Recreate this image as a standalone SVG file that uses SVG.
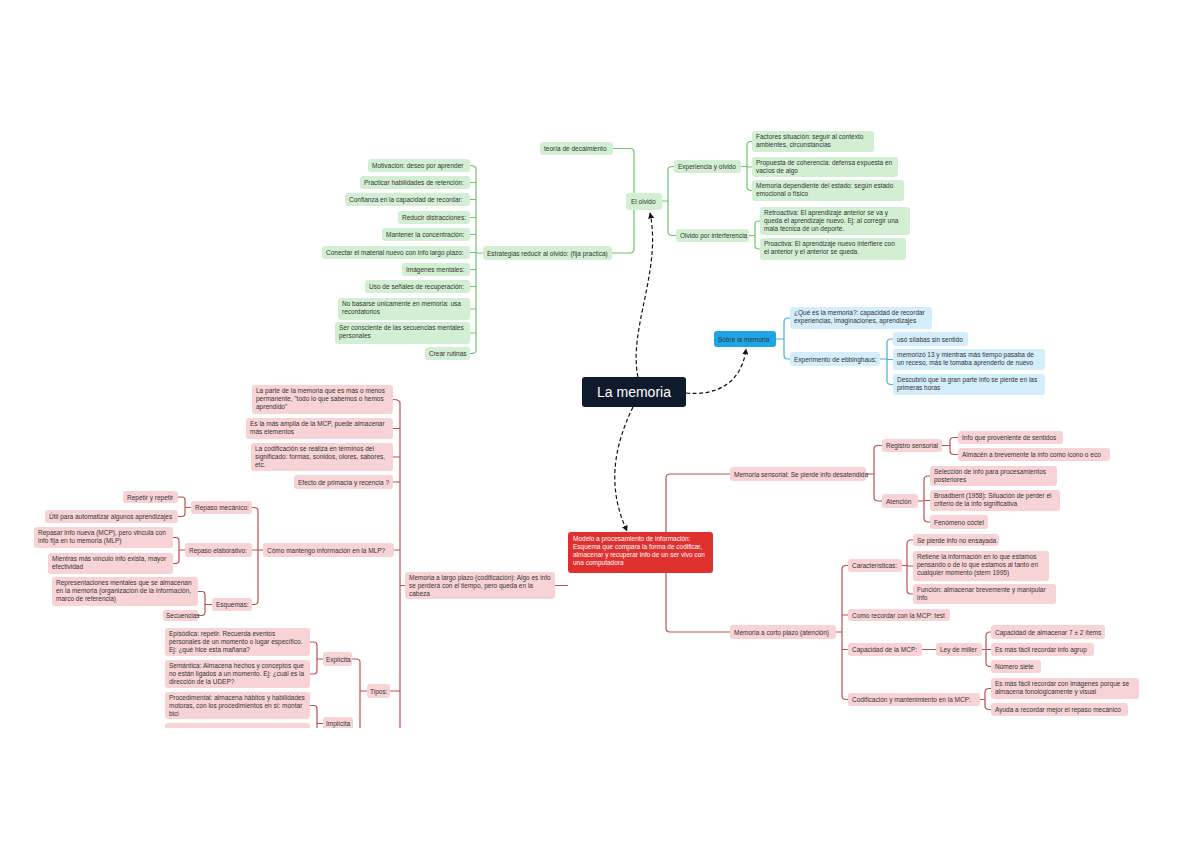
<svg xmlns="http://www.w3.org/2000/svg" width="1200" height="849" viewBox="0 0 1200 849">
<style>
text{font-family:"Liberation Sans",Arial,sans-serif;font-size:6.5px;fill:#333}
.g{fill:#d3efd3}.b{fill:#d4edfa}.r{fill:#f8d3d6}
.gl,.bl,.rl{fill:none;stroke-width:1.2}
.gl{stroke:#6cc46c}.bl{stroke:#3fb1e6}.rl{stroke:#b9514f}
.d{fill:none;stroke:#111;stroke-width:1.2;stroke-dasharray:4 2.5}
</style>
<defs>
<marker id="ah" viewBox="0 0 10 10" refX="9" refY="5" markerWidth="5" markerHeight="5" orient="auto"><path d="M0,0L10,5L0,10z" fill="#111"/></marker>
<clipPath id="cp"><rect x="0" y="0" width="1200" height="728"/></clipPath>
</defs>
<rect width="1200" height="849" fill="#fff"/>
<g clip-path="url(#cp)">
<g id="connectors">
<path class="gl" d="M634,193V152Q634,148.5 630,148.5H613M634,210V249Q634,253 630,253H612"/>
<path class="gl" d="M662,201H668V170Q668,166.5 672,166.5H674M668,201V232Q668,235.5 672,235.5H676"/>
<path class="gl" d="M741,166.5H747M747,145Q747,141.5 751,141.5H752M747,145V187Q747,190.5 751,190.5H752M747,167H752"/>
<path class="gl" d="M749,235.5H755M755,224Q755,221 759,221H760M755,224V246Q755,249 759,249H760"/>
<path class="gl" d="M483,253H476M476,169V351M470,165.5Q476,165.5 476,169M470,182.5H476M470,199.5H476M470,217.5H476M470,234.5H476M470,252.5H476M470,269.5H476M470,286.5H476M470,309H476M470,333H476M470,353.5Q476,353.5 476,351"/>
<path class="bl" d="M776,339H784V322Q784,318 788,318H790M784,339V355Q784,359 788,359H790"/>
<path class="bl" d="M880,359H887M887,343Q887,339 891,339H893M887,359.5H893M887,343V381Q887,384.5 891,384.5H893"/>
<path class="rl" d="M666,532V478Q666,474 670,474H730M666,573V628Q666,632 670,632H730"/>
<path class="rl" d="M866,474H874V449Q874,445.5 878,445.5H882M874,474V497Q874,501 878,501H882"/>
<path class="rl" d="M942,445.5H950V441Q950,437.5 954,437.5H958M950,445.5V451Q950,454.5 954,454.5H958"/>
<path class="rl" d="M918,501H924V480Q924,476 928,476H930M924,500.5H930M924,501V518Q924,522 928,522H930"/>
<path class="rl" d="M836,632H842V569Q842,565.5 846,565.5H848M842,615H848M842,649.5H848M842,632V696Q842,699.5 846,699.5H848"/>
<path class="rl" d="M902,565.5H907V544Q907,540 911,540H913M907,566H913M907,566V590Q907,594 911,594H913"/>
<path class="rl" d="M922,649.5H936M982,649.5H986V636Q986,632 990,632H991M986,649.5H991M986,649.5V663Q986,666.5 990,666.5H991"/>
<path class="rl" d="M980,699.5H985V692Q985,688.5 989,688.5H991M985,699.5V706Q985,709.5 989,709.5H991"/>
<path class="rl" d="M555,585.5H568M405,585.5H400M400,403V760M393,399.5Q400,399.5 400,403M393,428.5H400M393,457H400M393,482H400M394,550H400M390,691H400"/>
<path class="rl" d="M263,550H258V511Q258,507.5 254,507.5H252M258,550H252M258,550V601Q258,604.5 254,604.5H252"/>
<path class="rl" d="M191,507.5H185V500Q185,497 182,497H178M185,507.5V513Q185,516.5 182,516.5H178"/>
<path class="rl" d="M185,550H179V541Q179,537.5 176,537.5H173M179,550V560Q179,563.5 176,563.5H173"/>
<path class="rl" d="M212,604.5H205V595Q205,591.5 202,591.5H198M205,604.5V612Q205,615.5 202,615.5H198"/>
<path class="rl" d="M367,691H360V662Q360,659 356,659H352M360,691V760"/>
<path class="rl" d="M323,659H317V646Q317,642 314,642H310M317,659V670Q317,674 314,674H310M323,723.5H317V709Q317,705.5 314,705.5H310M317,723.5V740"/>
<path class="d" marker-end="url(#ah)" d="M638,377C628,330 662,270 650,213"/>
<path class="d" marker-end="url(#ah)" d="M686,393C718,396 742,382 746,349"/>
<path class="d" marker-end="url(#ah)" d="M633,407C612,450 608,490 627,531"/>
</g>

<g id="center"><rect x="582" y="377" width="104" height="30" rx="3" fill="#0f1b2d"/><text x="634" y="396.5" text-anchor="middle" style="font-size:14px;fill:#fff">La memoria</text></g>

<g id="olvido"><rect class="g" x="626" y="193" width="36" height="17" rx="3" fill="#bfe8bf"/><text x="631" y="204">El olvido</text></g>
<g id="decaimiento"><rect class="g" x="540" y="142" width="73" height="13" rx="3"/><text x="544" y="151">teoría de decaimiento</text></g>
<g id="estrategias"><rect class="g" x="483" y="246" width="129" height="14" rx="3"/><text x="487" y="255.5">Estrategias reducir al olvido: (fija practica)</text></g>
<g id="e1"><rect class="g" x="368" y="159" width="102" height="13" rx="3"/><text x="372" y="168">Motivación: deseo por aprender</text></g>
<g id="e2"><rect class="g" x="360" y="176" width="110" height="13" rx="3"/><text x="364" y="185">Practicar habilidades de retención:</text></g>
<g id="e3"><rect class="g" x="345" y="193" width="125" height="13" rx="3"/><text x="349" y="202">Confianza en la capacidad de recordar:</text></g>
<g id="e4"><rect class="g" x="398" y="211" width="72" height="13" rx="3"/><text x="402" y="220">Reducir distracciones:</text></g>
<g id="e5"><rect class="g" x="382" y="228" width="88" height="13" rx="3"/><text x="386" y="237">Mantener la concentración:</text></g>
<g id="e6"><rect class="g" x="322" y="246" width="148" height="13" rx="3"/><text x="326" y="255">Conectar el material nuevo con info largo plazo:</text></g>
<g id="e7"><rect class="g" x="402" y="263" width="68" height="13" rx="3"/><text x="406" y="272">Imágenes mentales:</text></g>
<g id="e8"><rect class="g" x="365" y="280" width="105" height="13" rx="3"/><text x="369" y="289">Uso de señales de recuperación:</text></g>
<g id="e9"><rect class="g" x="338" y="298" width="132" height="22" rx="3"/><text x="342" y="306">No basarse únicamente en memoria: usa</text><text x="342" y="314">recordatorios</text></g>
<g id="e10"><rect class="g" x="335" y="322" width="135" height="22" rx="3"/><text x="339" y="330">Ser consciente de las secuencias mentales</text><text x="339" y="338">personales</text></g>
<g id="e11"><rect class="g" x="425" y="347" width="45" height="13" rx="3"/><text x="429" y="356">Crear rutinas</text></g>
<g id="experiencia"><rect class="g" x="674" y="160" width="67" height="13" rx="3"/><text x="678" y="169">Experiencia y olvido</text></g>
<g id="x1"><rect class="g" x="752" y="131" width="122" height="21" rx="3"/><text x="756" y="139">Factores situación: seguir al contexto</text><text x="756" y="147">ambientes, circunstancias</text></g>
<g id="x2"><rect class="g" x="752" y="157" width="146" height="20" rx="3"/><text x="756" y="165">Propuesta de coherencia: defensa expuesta en</text><text x="756" y="173">vacíos de algo</text></g>
<g id="x3"><rect class="g" x="752" y="180" width="152" height="21" rx="3"/><text x="756" y="188">Memoria dependiente del estado: según estado</text><text x="756" y="196">emocional o físico</text></g>
<g id="interferencia"><rect class="g" x="676" y="229" width="73" height="13" rx="3"/><text x="680" y="238">Olvido por interferencia</text></g>
<g id="i1"><rect class="g" x="760" y="207" width="150" height="28" rx="3"/><text x="764" y="215">Retroactiva: El aprendizaje anterior se va y</text><text x="764" y="223">queda el aprendizaje nuevo. Ej: al corregir una</text><text x="764" y="231">mala técnica de un deporte.</text></g>
<g id="i2"><rect class="g" x="760" y="238" width="146" height="22" rx="3"/><text x="764" y="246">Proactiva: El aprendizaje nuevo interfiere con</text><text x="764" y="254">el anterior y el anterior se queda.</text></g>

<g id="sobre"><rect x="714" y="331" width="62" height="16" rx="3" fill="#1ea5e6"/><text x="718" y="341.5">Sobre la memoria</text></g>
<g id="b1"><rect class="b" x="790" y="307" width="142" height="22" rx="3"/><text x="794" y="315">¿Qué es la memoria?: capacidad de recordar</text><text x="794" y="323">experiencias, imaginaciones, aprendizajes</text></g>
<g id="ebb"><rect class="b" x="790" y="352" width="90" height="14" rx="3"/><text x="794" y="361.5">Experimento de ebbinghaus:</text></g>
<g id="b2"><rect class="b" x="893" y="332" width="75" height="14" rx="3"/><text x="897" y="341.5">usó sílabas sin sentido</text></g>
<g id="b3"><rect class="b" x="893" y="349" width="152" height="21" rx="3"/><text x="897" y="357">memorizó 13 y mientras más tiempo pasaba de</text><text x="897" y="365">un receso, más le tomaba aprenderlo de nuevo</text></g>
<g id="b4"><rect class="b" x="893" y="374" width="152" height="21" rx="3"/><text x="897" y="382">Descubrió que la gran parte info se pierde en las</text><text x="897" y="390">primeras horas</text></g>

<g id="modelo"><rect x="568" y="532" width="145" height="41" rx="3" fill="#e0312f"/><text x="573" y="541" style="fill:#fff">Modelo a procesamiento de información:</text><text x="573" y="549" style="fill:#fff">Esquema que compara la forma de codificar,</text><text x="573" y="557" style="fill:#fff">almacenar y recuperar info de un ser vivo con</text><text x="573" y="565" style="fill:#fff">una computadora</text></g>
<g id="sensorial"><rect class="r" x="730" y="467" width="136" height="14" rx="3"/><text x="734" y="476.5">Memoria sensorial: Se pierde info desatendida</text></g>
<g id="registro"><rect class="r" x="882" y="439" width="60" height="13" rx="3"/><text x="886" y="448">Registro sensorial</text></g>
<g id="s1"><rect class="r" x="958" y="431" width="105" height="13" rx="3"/><text x="962" y="440">Info que proveniente de sentidos</text></g>
<g id="s2"><rect class="r" x="958" y="448" width="152" height="13" rx="3"/><text x="962" y="457">Almacén a brevemente la info como icono o eco</text></g>
<g id="atencion"><rect class="r" x="882" y="494" width="36" height="14" rx="3"/><text x="886" y="503.5">Atención</text></g>
<g id="s3"><rect class="r" x="930" y="466" width="127" height="20" rx="3"/><text x="934" y="474">Selección de info para procesamientos</text><text x="934" y="482">posteriores</text></g>
<g id="s4"><rect class="r" x="930" y="490" width="130" height="21" rx="3"/><text x="934" y="498">Broadbent (1958): Situación de perder el</text><text x="934" y="506">criterio de la info significativa</text></g>
<g id="s5"><rect class="r" x="930" y="515" width="58" height="14" rx="3"/><text x="934" y="524.5">Fenómeno cóctel</text></g>
<g id="mcp"><rect class="r" x="730" y="625" width="106" height="14" rx="3"/><text x="734" y="634.5">Memoria a corto plazo (atención)</text></g>
<g id="caract"><rect class="r" x="848" y="559" width="54" height="13" rx="3"/><text x="852" y="568">Características:</text></g>
<g id="c1"><rect class="r" x="913" y="534" width="86" height="12" rx="3"/><text x="917" y="542.5">Se pierde info no ensayada</text></g>
<g id="c2"><rect class="r" x="913" y="551" width="136" height="30" rx="3"/><text x="917" y="559">Retiene la información en lo que estamos</text><text x="917" y="567">pensando o de lo que estamos al tanto en</text><text x="917" y="575">cualquier momento (stern 1995)</text></g>
<g id="c3"><rect class="r" x="913" y="584" width="143" height="20" rx="3"/><text x="917" y="592">Función: almacenar brevemente y manipular</text><text x="917" y="600">info</text></g>
<g id="test"><rect class="r" x="848" y="609" width="102" height="12" rx="3"/><text x="852" y="617.5">Como recordar con la MCP: test</text></g>
<g id="capac"><rect class="r" x="848" y="643" width="74" height="13" rx="3"/><text x="852" y="652">Capacidad de la MCP:</text></g>
<g id="miller"><rect class="r" x="936" y="643" width="46" height="13" rx="3"/><text x="940" y="652">Ley de miller</text></g>
<g id="m1"><rect class="r" x="991" y="625" width="114" height="14" rx="3"/><text x="995" y="634.5">Capacidad de almacenar 7 ± 2 ítems</text></g>
<g id="m2"><rect class="r" x="991" y="643" width="103" height="13" rx="3"/><text x="995" y="652">Es más fácil recordar info agrup</text></g>
<g id="m3"><rect class="r" x="991" y="660" width="50" height="13" rx="3"/><text x="995" y="669">Número siete</text></g>
<g id="codif"><rect class="r" x="848" y="693" width="132" height="13" rx="3"/><text x="852" y="702">Codificación y mantenimiento en la MCP:</text></g>
<g id="k1"><rect class="r" x="991" y="678" width="148" height="21" rx="3"/><text x="995" y="686">Es más fácil recordar con imágenes porque se</text><text x="995" y="694">almacena fonológicamente y visual</text></g>
<g id="k2"><rect class="r" x="991" y="703" width="137" height="13" rx="3"/><text x="995" y="712">Ayuda a recordar mejor el repaso mecánico</text></g>

<g id="mlp"><rect class="r" x="405" y="572" width="150" height="27" rx="3"/><text x="409" y="580">Memoria a largo plazo (codificación): Algo es info</text><text x="409" y="588">se perderá con el tiempo, pero queda en la</text><text x="409" y="596">cabeza</text></g>
<g id="l1"><rect class="r" x="252" y="385" width="141" height="29" rx="3"/><text x="256" y="393">La parte de la memoria que es más o menos</text><text x="256" y="401">permanente, "todo lo que sabemos o hemos</text><text x="256" y="409">aprendido"</text></g>
<g id="l2"><rect class="r" x="246" y="418" width="147" height="21" rx="3"/><text x="250" y="426">Es la más amplia de la MCP, puede almacenar</text><text x="250" y="434">más elementos</text></g>
<g id="l3"><rect class="r" x="251" y="443" width="142" height="28" rx="3"/><text x="255" y="451">La codificación se realiza en términos del</text><text x="255" y="459">significado: formas, sonidos, olores, sabores,</text><text x="255" y="467">etc.</text></g>
<g id="l4"><rect class="r" x="294" y="475" width="99" height="14" rx="3"/><text x="298" y="484.5">Efecto de primacía y recencia ?</text></g>
<g id="como"><rect class="r" x="263" y="543" width="131" height="14" rx="3"/><text x="267" y="552.5">Cómo mantengo información en la MLP?</text></g>
<g id="rmec"><rect class="r" x="191" y="501" width="61" height="13" rx="3"/><text x="195" y="510">Repaso mecánico:</text></g>
<g id="rm1"><rect class="r" x="123" y="491" width="55" height="12" rx="3"/><text x="127" y="499.5">Repetir y repetir</text></g>
<g id="rm2"><rect class="r" x="45" y="510" width="133" height="13" rx="3"/><text x="49" y="519">Útil para automatizar algunos aprendizajes</text></g>
<g id="relab"><rect class="r" x="185" y="543" width="67" height="14" rx="3"/><text x="189" y="552.5">Repaso elaborativo:</text></g>
<g id="re1"><rect class="r" x="34" y="527" width="139" height="21" rx="3"/><text x="38" y="535">Repasar info nueva (MCP), pero vincula con</text><text x="38" y="543">info fija en tu memoria (MLP)</text></g>
<g id="re2"><rect class="r" x="48" y="553" width="125" height="21" rx="3"/><text x="52" y="561">Mientras más vínculo info exista, mayor</text><text x="52" y="569">efectividad</text></g>
<g id="esq"><rect class="r" x="212" y="598" width="40" height="13" rx="3"/><text x="216" y="607">Esquemas:</text></g>
<g id="es1"><rect class="r" x="52" y="577" width="146" height="29" rx="3"/><text x="56" y="585">Representaciones mentales que se almacenan</text><text x="56" y="593">en la memoria (organización de la información,</text><text x="56" y="601">marco de referencia)</text></g>
<g id="es2"><rect class="r" x="163" y="610" width="35" height="11" rx="3"/><text x="166" y="618">Secuencias</text></g>
<g id="tipos"><rect class="r" x="367" y="684" width="23" height="14" rx="3"/><text x="370" y="693.5">Tipos:</text></g>
<g id="expl"><rect class="r" x="323" y="652" width="29" height="14" rx="3"/><text x="326" y="661.5">Explícita</text></g>
<g id="ex1"><rect class="r" x="165" y="628" width="145" height="28" rx="3"/><text x="169" y="636">Episódica: repetir. Recuerda eventos</text><text x="169" y="644">personales de un momento o lugar específico.</text><text x="169" y="652">Ej: ¿qué hice esta mañana?</text></g>
<g id="ex2"><rect class="r" x="165" y="660" width="145" height="28" rx="3"/><text x="169" y="668">Semántica: Almacena hechos y conceptos que</text><text x="169" y="676">no están ligados a un momento. Ej: ¿cuál es la</text><text x="169" y="684">dirección de la UDEP?</text></g>
<g id="impl"><rect class="r" x="323" y="717" width="30" height="13" rx="3"/><text x="326" y="726">Implícita</text></g>
<g id="im1"><rect class="r" x="165" y="692" width="145" height="27" rx="3"/><text x="169" y="700">Procedimental: almacena hábitos y habilidades</text><text x="169" y="708">motoras, con los procedimientos en sí: montar</text><text x="169" y="716">bici</text></g>
<g id="im2"><rect class="r" x="165" y="723" width="145" height="20" rx="3"/></g>
</g>
</svg>
